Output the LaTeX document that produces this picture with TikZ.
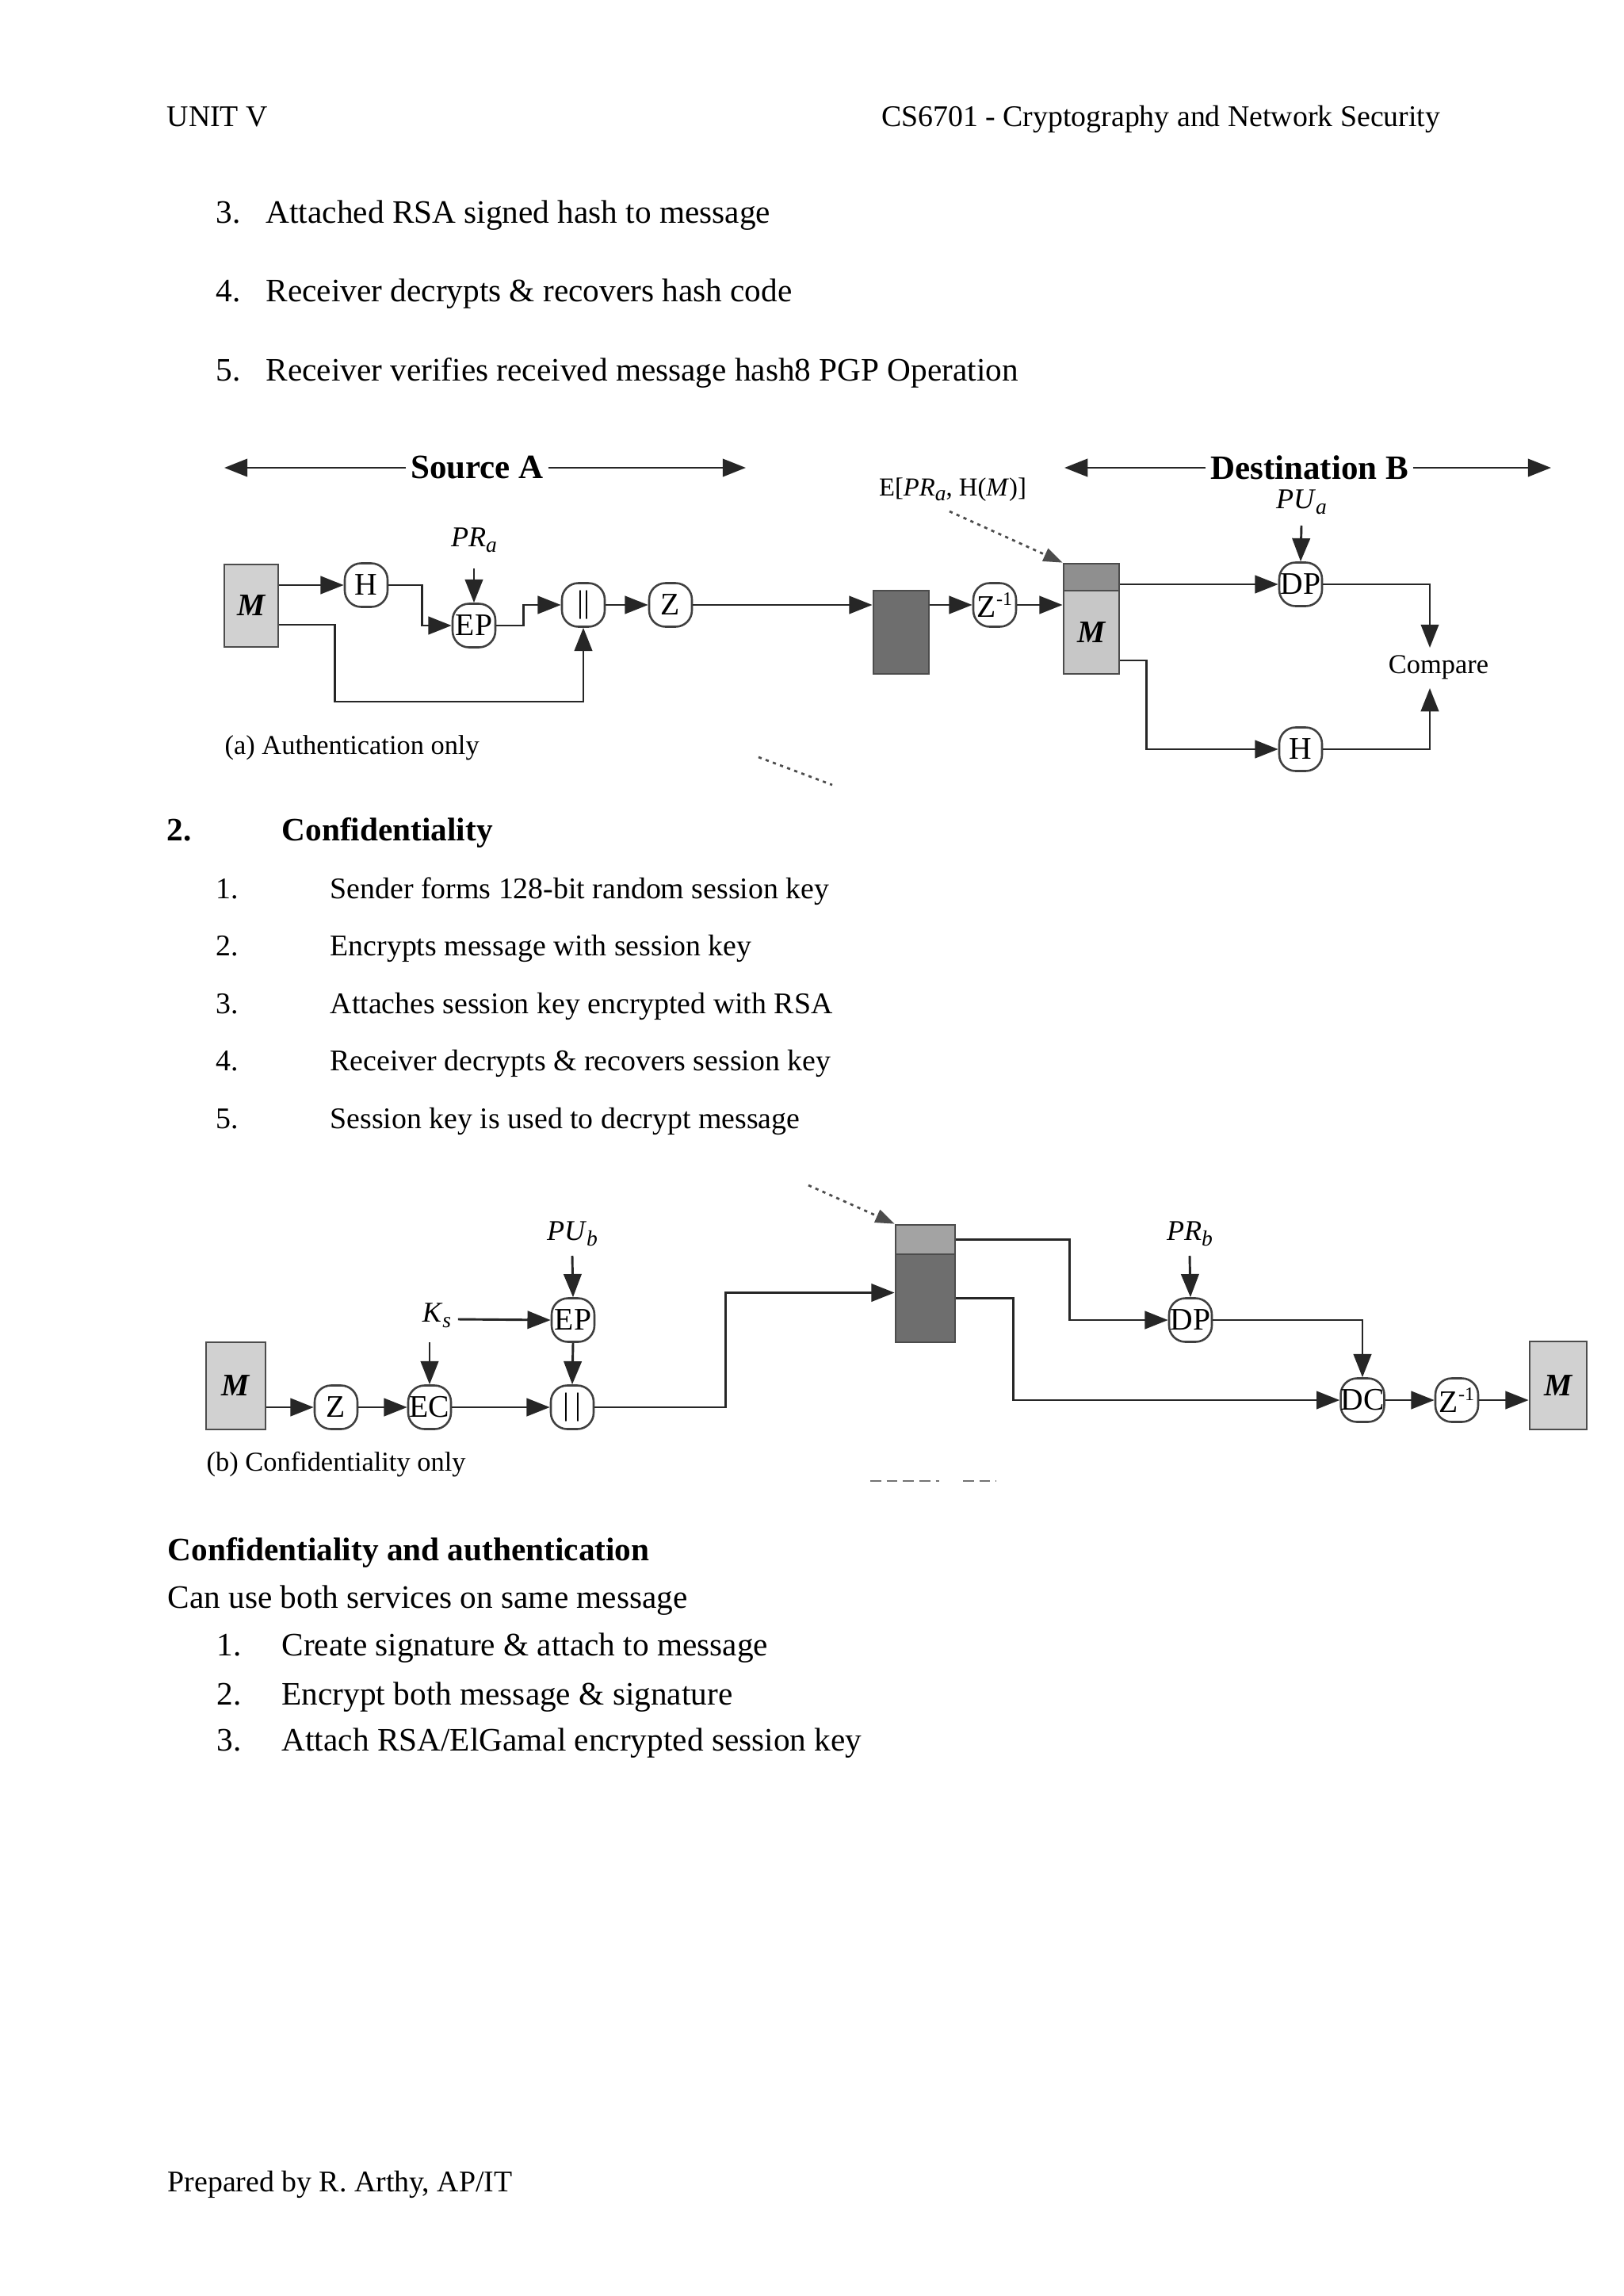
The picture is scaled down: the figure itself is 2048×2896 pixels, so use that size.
\documentclass[tikz,border=0pt]{standalone}
\usepackage{fontspec}
\setmainfont{Liberation Serif}
\usetikzlibrary{arrows.meta,calc}
\newcommand\sbs[1]{\raisebox{-0.4ex}{\footnotesize #1}}
\newcommand\sps[1]{\raisebox{0.85ex}{\scriptsize #1}}
\def\px{0.290663pt}
\begin{document}
\begin{tikzpicture}[x=0.290663pt,y=-0.290663pt,
  txt/.style={anchor=base west, inner sep=0pt, font=\fontsize{12}{14}\selectfont},
  txth/.style={anchor=base west, inner sep=0pt, font=\fontsize{11}{13}\selectfont},
  txts/.style={anchor=base west, inner sep=0pt, font=\fontsize{11}{13}\selectfont},
  op/.style={draw=black!75, line width=0.75pt, rounded corners=6pt, minimum width=54*\px, minimum height=55*\px, inner sep=0pt, fill=white, font=\fontsize{11.5}{11.5}\selectfont},
  lab/.style={inner sep=0pt, font=\fontsize{10}{12}\selectfont},
  boxx/.style={draw=black!70, line width=0.8pt, inner sep=0pt, font=\fontsize{11.5}{12}\selectfont\bfseries\itshape},
  arr/.style={draw=black!85, line width=0.85pt, -{Triangle[length=8.5pt,width=6.5pt]}},
  hdr/.style={inner sep=1.5pt, font=\fontsize{12.5}{14}\selectfont\bfseries},
  dots/.style={draw=black!70, line width=0.8pt, dash pattern=on 1.2pt off 1.6pt}]
\fill[white] (0,0) rectangle (2048,2896);
\useasboundingbox (0,0) rectangle (2048,2896);

% ---------- header / text ----------
\node[txth] (hl) at (210,159) {UNIT V};
\node[txth, anchor=base east] (hr) at (1818,159) {CS6701 - Cryptography and Network Security};
\node[txt] (n3) at (272,281) {3.};
\node[txt] (t3) at (335,281) {Attached RSA signed hash to message};
\node[txt] (n4) at (272,380) {4.};
\node[txt] (t4) at (335,380) {Receiver decrypts \& recovers hash code};
\node[txt] (n5) at (272,480) {5.};
\node[txt] (t5) at (335,480) {Receiver verifies received message hash8 PGP Operation};

% ---------- diagram (a) ----------
\node[hdr] (srcA) at (602,590) {Source A};
\coordinate (srcAL) at (283,590);
\coordinate (srcAR) at (941,590);
\draw[arr] (srcA.west) -- (srcAL);
\draw[arr] (srcA.east) -- (srcAR);
\node[hdr] (dstB) at (1652,590) {Destination B};
\coordinate (dstBL) at (1343,590);
\coordinate (dstBR) at (1957,590);
\draw[arr] (dstB.west) -- (dstBL);
\draw[arr] (dstB.east) -- (dstBR);

\node[boxx, fill=black!18, minimum width=68*\px, minimum height=104*\px] (ma) at (317,764) {M};
\node[op] (ha) at (462,738) {H};
\node[op] (epa) at (598,789) {EP};
\node[lab, font=\fontsize{10.5}{12}\selectfont] (pra) at (598,681) {\textit{PR}\sbs{\textit{a}}};
\node[op] (cata) at (736,763) {||};
\node[op] (za) at (846,763) {Z};
\node[boxx, fill=black!57, minimum width=70*\px, minimum height=105*\px] (dk) at (1137,797.5) {};
\node[op] (zia) at (1255,763) {Z\sps{-1}};
\node[boxx, fill=black!44, minimum width=70*\px, minimum height=34*\px] (bxt) at (1377,728) {};
\node[boxx, fill=black!22, minimum width=70*\px, minimum height=105*\px] (bxb) at (1377,797.5) {M};
\node[lab, font=\fontsize{9.5}{12}\selectfont] (ephm) at (1202,618) {E[\textit{PR}\sbs{\textit{a}}, H(\textit{M})]};
\coordinate (ephs) at (1198,645);
\node[op] (dpa) at (1641,737) {DP};
\node[lab, font=\fontsize{10.5}{12}\selectfont] (pua) at (1642,633) {\textit{PU}\sbs{\textit{a}}};
\node[op] (h2a) at (1641,945) {H};
\node[lab] (cmp) at (1815,842) {Compare};
\coordinate (cmpT) at (1804,817);
\coordinate (cmpB) at (1804,868);
\node[lab, anchor=west] (capa) at (283,943) {(a) Authentication only};

\draw[arr] (ma.east |- ha.west) -- (ha.west);
\draw[arr] (ha.east) -- ++(42,0) |- (epa.west);
\draw[arr] (pra.south) ++(0,20) -- (epa.north);
\draw[arr] (epa.east) -- ++(34,0) |- (cata.west);
\draw[arr] ($(ma.east)+(0,24)$) -- ++(70,0) -- ++(0,97) -| (cata.south);
\draw[arr] (cata.east) -- (za.west);
\draw[arr] (za.east) -- (za.east -| dk.west);
\draw[arr] (dk.east |- zia.west) -- (zia.west);
\draw[arr] (zia.east) -- (zia.east -| bxb.west);
\draw[dots, -{Triangle[length=7pt,width=5pt]}] (ephs) -- (bxt.north west);
\draw[arr] (bxt.east |- dpa.west) -- (dpa.west);
\draw[arr] (pua.south) ++(0,14) -- (dpa.north);
\draw[arr] (dpa.east) -| (cmpT);
\draw[arr] ($(bxb.east)+(0,35.5)$) -- ++(33,0) |- (h2a.west);
\draw[arr] (h2a.east) -| (cmpB);
\coordinate (dsa1) at (957,955);
\coordinate (dsa2) at (1050,990);
\draw[dots] (dsa1) -- (dsa2);

% ---------- section 2 ----------
\node[txt, font=\fontsize{12}{14}\selectfont\bfseries] (s2n) at (210,1060) {2.};
\node[txt, font=\fontsize{12}{14}\selectfont\bfseries] (s2t) at (355,1060) {Confidentiality};
\node[txts] (c1n) at (272,1133) {1.};
\node[txts] (c1t) at (416,1133) {Sender forms 128-bit random session key};
\node[txts] (c2n) at (272,1205) {2.};
\node[txts] (c2t) at (416,1205) {Encrypts message with session key};
\node[txts] (c3n) at (272,1278) {3.};
\node[txts] (c3t) at (416,1278) {Attaches session key encrypted with RSA};
\node[txts] (c4n) at (272,1350) {4.};
\node[txts] (c4t) at (416,1350) {Receiver decrypts \& recovers session key};
\node[txts] (c5n) at (272,1423) {5.};
\node[txts] (c5t) at (416,1423) {Session key is used to decrypt message};

% ---------- diagram (b) ----------
\node[boxx, fill=black!18, minimum width=75*\px, minimum height=110*\px] (mb) at (297.5,1748) {M};
\node[op] (zb) at (424,1775) {Z};
\node[op] (ecb) at (542,1775) {EC};
\node[op] (catb) at (722,1775) {|\,|};
\node[op] (epb) at (723,1665) {EP};
\node[lab, font=\fontsize{10.5}{12}\selectfont] (ks) at (551,1659) {\textit{K}\sbs{\textit{s}}};
\coordinate (ksd) at (542,1693);
\node[lab, font=\fontsize{10.5}{12}\selectfont] (pub) at (722,1556) {\textit{PU}\sbs{\textit{b}}};
\node[boxx, fill=black!36, minimum width=75*\px, minimum height=37*\px] (bbt) at (1167.5,1563.5) {};
\node[boxx, fill=black!57, minimum width=75*\px, minimum height=111*\px] (bbb) at (1167.5,1637.5) {};
\coordinate (bds) at (1020,1495);
\node[op] (dpb) at (1502,1665) {DP};
\node[lab, font=\fontsize{10.5}{12}\selectfont] (prb) at (1501,1556) {\textit{PR}\sbs{\textit{b}}};
\node[op] (dcb) at (1719,1766) {DC};
\node[op] (zib) at (1838,1766) {Z\sps{-1}};
\node[boxx, fill=black!18, minimum width=72*\px, minimum height=111*\px] (mb2) at (1966,1747.5) {M};
\node[lab, anchor=west] (capb) at (260,1847) {(b) Confidentiality only};

\draw[arr] (mb.east |- zb.west) -- (zb.west);
\draw[arr] (zb.east) -- (ecb.west);
\draw[arr] (ecb.east) -- (catb.west);
\draw[arr] (ks.east) ++(8,5) -- (epb.west);
\draw[arr] (ksd) -- (ecb.north);
\draw[arr] (pub.south) ++(0,12) -- (epb.north);
\draw[arr] (epb.south) -- (catb.north);
\draw[arr] (catb.east) -- ++(165,0) |- ($(bbb.west)+(0,-7)$);
\draw[dots, -{Triangle[length=7pt,width=5pt]}] (bds) -- (bbt.north west);
\draw[arr] (bbt.east) -- ++(143,0) |- (dpb.west);
\draw[arr] (prb.south) ++(0,12) -- (dpb.north);
\draw[arr] (dpb.east) -| (dcb.north);
\draw[arr] (bbb.east) -- ++(72,0) |- (dcb.west);
\draw[arr] (dcb.east) -- (zib.west);
\draw[arr] (zib.east) -- (zib.east -| mb2.west);
\coordinate (dsb1) at (1098,1868);
\coordinate (dsb2) at (1185,1868);
\coordinate (dsb3) at (1215,1868);
\coordinate (dsb4) at (1257,1868);
\draw[draw=black!55, line width=0.7pt, dash pattern=on 4pt off 2pt] (dsb1) -- (dsb2) (dsb3) -- (dsb4);

% ---------- section 3 ----------
\node[txt, font=\fontsize{12}{14}\selectfont\bfseries] (s3t) at (211,1968) {Confidentiality and authentication};
\node[txt] (s3a) at (211,2028) {Can use both services on same message};
\node[txt] (d1n) at (273,2088) {1.};
\node[txt] (d1t) at (355,2088) {Create signature \& attach to message};
\node[txt] (d2n) at (273,2150) {2.};
\node[txt] (d2t) at (355,2150) {Encrypt both message \& signature};
\node[txt] (d3n) at (273,2208) {3.};
\node[txt] (d3t) at (355,2208) {Attach RSA/ElGamal encrypted session key};

\node[txth] (foot) at (211,2764) {Prepared by R. Arthy, AP/IT};
\end{tikzpicture}
\end{document}
